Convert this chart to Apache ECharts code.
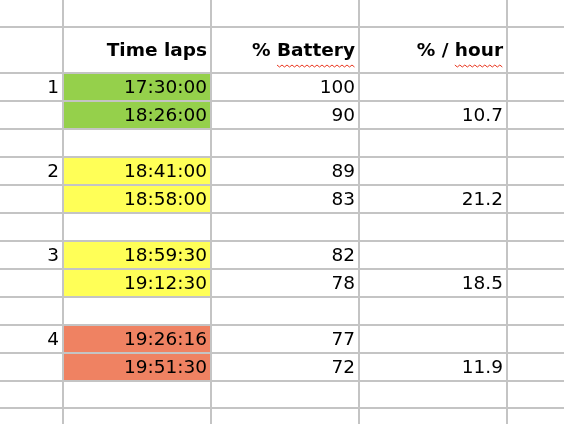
<!DOCTYPE html>
<html>
<head>
<meta charset="utf-8">
<script src="https://cdn.jsdelivr.net/npm/echarts@6/dist/echarts.min.js"></script>
<style>html,body{margin:0;padding:0;background:#fff}#chart{width:564px;height:424px}</style>
</head>
<body>
<div id="chart"></div>
<script>
// Table contents
const headers = ["", "Time laps", "% Battery", "% / hour"];
const misspelled = ["", "", "Battery", "hour"];
const lapIds = ["1", "", "", "2", "", "", "3", "", "", "4", ""];
const lapTimes = ["17:30:00", "18:26:00", "", "18:41:00", "18:58:00", "", "18:59:30", "19:12:30", "", "19:26:16", "19:51:30"];
const battery = ["100", "90", "", "89", "83", "", "82", "78", "", "77", "72"];
const perHour = ["", "10.7", "", "", "21.2", "", "", "18.5", "", "", "11.9"];
const lapColors = ["#95d04b", "#95d04b", null, "#ffff57", "#ffff57", null, "#ffff57", "#ffff57", null, "#ef8262", "#ef8262"];

// Layout of the sheet (pixel edges of columns / rows)
const colEdges = [0, 63, 211, 359, 507, 564];
const rowEdges = [0, 27, 73, 101, 129, 157, 185, 213, 241, 269, 297, 325, 353, 381, 408, 424];
const FONT = "18.5px 'DejaVu Sans'";
const BOLD = "bold 18.5px 'DejaVu Sans'";

const ctx = document.createElement("canvas").getContext("2d");
const textWidth = (t, f) => { ctx.font = f; return ctx.measureText(t).width; };

const chart = echarts.init(document.getElementById("chart"));

// Build cells: [col, row, text, fill, bold, squiggleWord]
const cells = [];
headers.forEach((h, c) => cells.push([c, 1, h, null, 1, misspelled[c]]));
lapTimes.forEach((t, i) => {
  const r = i + 2;
  cells.push([0, r, lapIds[i], null, 0, ""]);
  cells.push([1, r, t, lapColors[i], 0, ""]);
  cells.push([2, r, battery[i], null, 0, ""]);
  cells.push([3, r, perHour[i], null, 0, ""]);
});

const gridLines = [];
colEdges.slice(1, -1).forEach((x) => gridLines.push([x, 0, x, 424]));
rowEdges.slice(1, -1).forEach((y) => gridLines.push([0, y, 564, y]));

const option = {
  animation: false,
  grid: { left: 0, right: 0, top: 0, bottom: 0 },
  xAxis: { type: "value", min: 0, max: 564, show: false },
  yAxis: { type: "value", min: 0, max: 424, inverse: true, show: false },
  series: [
    {
      type: "custom",
      data: cells,
      z: 1,
      renderItem: (params, api) => {
        const c = api.value(0), r = api.value(1);
        const p0 = api.coord([colEdges[c], rowEdges[r]]);
        const p1 = api.coord([colEdges[c + 1], rowEdges[r + 1]]);
        const cell = cells[params.dataIndex];
        const font = cell[4] ? BOLD : FONT;
        const right = p1[0] - 4;
        const midY = (p0[1] + p1[1]) / 2 + 1;
        const children = [];
        if (cell[3]) {
          children.push({ type: "rect", shape: { x: p0[0], y: p0[1], width: p1[0] - p0[0], height: p1[1] - p0[1] }, style: { fill: cell[3] } });
        }
        children.push({
          type: "text",
          style: { text: cell[2], x: right, y: midY, align: "right", verticalAlign: "middle", font, fill: "#000" }
        });
        if (cell[5]) {
          // red spell-check squiggle under the word
          const w = textWidth(cell[5], font);
          const pts = [];
          const y0 = midY + 14;
          for (let x = right - w, k = 0; x <= right; x += 2.5, k++) pts.push([x, y0 + (k % 2 ? 2 : 0)]);
          children.push({ type: "polyline", shape: { points: pts }, style: { stroke: "#e8361e", lineWidth: 1, fill: null } });
        }
        return { type: "group", children };
      }
    },
    {
      type: "custom",
      data: gridLines,
      z: 2,
      renderItem: (params, api) => {
        const a = api.coord([api.value(0), api.value(1)]);
        const b = api.coord([api.value(2), api.value(3)]);
        return { type: "line", shape: { x1: a[0], y1: a[1], x2: b[0], y2: b[1] }, style: { stroke: "#c4c4c4", lineWidth: 2 } };
      }
    }
  ]
};
chart.setOption(option);
</script>
</body>
</html>
